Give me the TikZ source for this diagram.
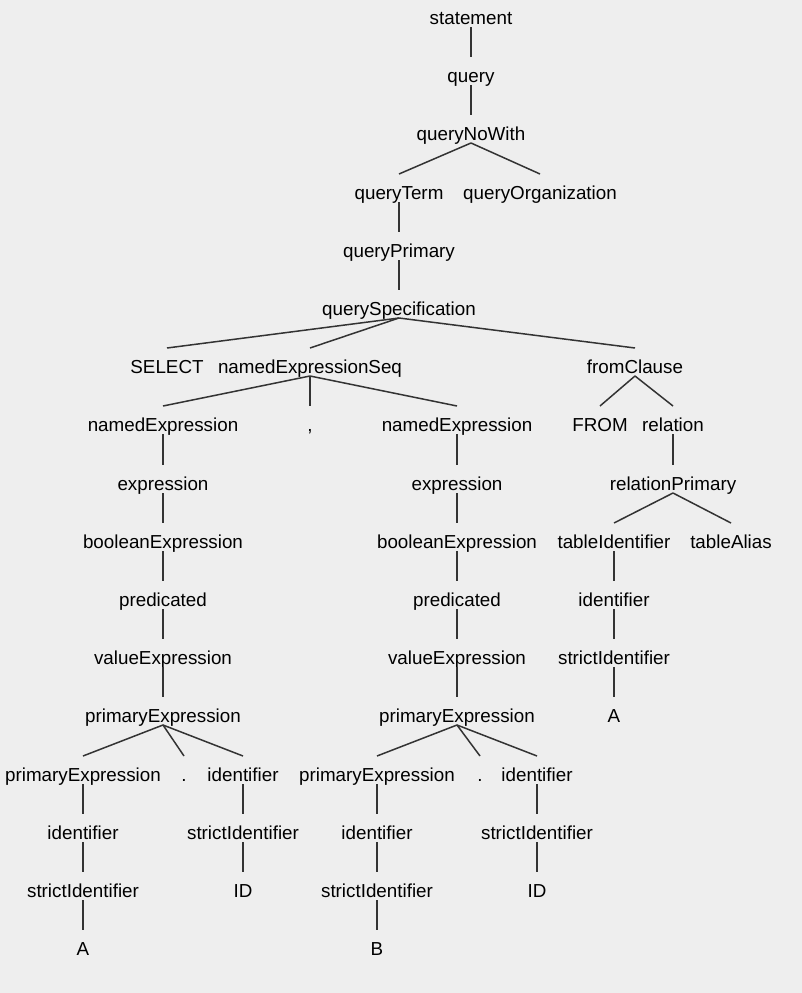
\documentclass[tikz,border=0pt]{standalone}
\usepackage{fontspec}
\setmainfont{Liberation Sans}
\usetikzlibrary{positioning}
\definecolor{bgGray}{HTML}{EEEEEE}
\definecolor{edgeGray}{HTML}{333333}
\begin{document}
\begin{tikzpicture}[x=1pt,y=-1pt]
		\tikzstyle{treenode} = [font=\fontsize{18.8}{20}\selectfont,anchor=base,text height=25pt,text depth=3pt,inner sep=0pt,outer sep=0pt]
		\tikzstyle{branch} = [draw=edgeGray,line width=1.5pt]
		
		% Background
		\fill [bgGray] (0,0) rectangle (802,993);
		\useasboundingbox (0,0) rectangle (802,993);
		
		% Nodes
		\node [treenode] (statement) at (471,24) {statement};
		\node [treenode] (query) at (471,82) {query};
		\node [treenode] (queryNoWith) at (471,140) {queryNoWith};
		\node [treenode] (queryTerm) at (399,199) {queryTerm};
		\node [treenode] (queryOrganization) at (540,199) {queryOrganization};
		\node [treenode] (queryPrimary) at (399,257) {queryPrimary};
		\node [treenode] (querySpecification) at (399,315) {querySpecification};
		\node [treenode] (select) at (167,373) {SELECT};
		\node [treenode] (namedExpressionSeq) at (310,373) {namedExpressionSeq};
		\node [treenode] (fromClause) at (635,373) {fromClause};
		
		% Left select item
		\node [treenode] (namedExprA) at (163,431) {namedExpression};
		\node [treenode] (comma) at (310,431) {,};
		\node [treenode] (expressionA) at (163,490) {expression};
		\node [treenode] (boolExprA) at (163,548) {booleanExpression};
		\node [treenode] (predicatedA) at (163,606) {predicated};
		\node [treenode] (valueExprA) at (163,664) {valueExpression};
		\node [treenode] (primaryExprA) at (163,722) {primaryExpression};
		\node [treenode] (primaryExprAA) at (83,781) {primaryExpression};
		\node [treenode] (dotA) at (184,781) {.};
		\node [treenode] (identifierA) at (243,781) {identifier};
		\node [treenode] (identifierAA) at (83,839) {identifier};
		\node [treenode] (strictIdentA) at (243,839) {strictIdentifier};
		\node [treenode] (strictIdentAA) at (83,897) {strictIdentifier};
		\node [treenode] (idA) at (243,897) {ID};
		\node [treenode] (nameA) at (83,955) {A};
		
		% Right select item
		\node [treenode] (namedExprB) at (457,431) {namedExpression};
		\node [treenode] (expressionB) at (457,490) {expression};
		\node [treenode] (boolExprB) at (457,548) {booleanExpression};
		\node [treenode] (predicatedB) at (457,606) {predicated};
		\node [treenode] (valueExprB) at (457,664) {valueExpression};
		\node [treenode] (primaryExprB) at (457,722) {primaryExpression};
		\node [treenode] (primaryExprBB) at (377,781) {primaryExpression};
		\node [treenode] (dotB) at (480,781) {.};
		\node [treenode] (identifierB) at (537,781) {identifier};
		\node [treenode] (identifierBB) at (377,839) {identifier};
		\node [treenode] (strictIdentB) at (537,839) {strictIdentifier};
		\node [treenode] (strictIdentBB) at (377,897) {strictIdentifier};
		\node [treenode] (idB) at (537,897) {ID};
		\node [treenode] (nameB) at (377,955) {B};
		
		% From clause
		\node [treenode] (from) at (600,431) {FROM};
		\node [treenode] (relation) at (673,431) {relation};
		\node [treenode] (relationPrimary) at (673,490) {relationPrimary};
		\node [treenode] (tableIdentifier) at (614,548) {tableIdentifier};
		\node [treenode] (tableAlias) at (731,548) {tableAlias};
		\node [treenode] (identifierT) at (614,606) {identifier};
		\node [treenode] (strictIdentT) at (614,664) {strictIdentifier};
		\node [treenode] (nameT) at (614,722) {A};
		
		% Branches
		\draw [branch] (statement.south) -- (query.north);
		\draw [branch] (query.south) -- (queryNoWith.north);
		\draw [branch] (queryNoWith.south) -- (queryTerm.north);
		\draw [branch] (queryNoWith.south) -- (queryOrganization.north);
		\draw [branch] (queryTerm.south) -- (queryPrimary.north);
		\draw [branch] (queryPrimary.south) -- (querySpecification.north);
		\draw [branch] (querySpecification.south) -- (select.north);
		\draw [branch] (querySpecification.south) -- (namedExpressionSeq.north);
		\draw [branch] (querySpecification.south) -- (fromClause.north);
		\draw [branch] (namedExpressionSeq.south) -- (namedExprA.north);
		\draw [branch] (namedExpressionSeq.south) -- (comma.north);
		\draw [branch] (namedExpressionSeq.south) -- (namedExprB.north);
		
		\draw [branch] (namedExprA.south) -- (expressionA.north);
		\draw [branch] (expressionA.south) -- (boolExprA.north);
		\draw [branch] (boolExprA.south) -- (predicatedA.north);
		\draw [branch] (predicatedA.south) -- (valueExprA.north);
		\draw [branch] (valueExprA.south) -- (primaryExprA.north);
		\draw [branch] (primaryExprA.south) -- (primaryExprAA.north);
		\draw [branch] (primaryExprA.south) -- (dotA.north);
		\draw [branch] (primaryExprA.south) -- (identifierA.north);
		\draw [branch] (primaryExprAA.south) -- (identifierAA.north);
		\draw [branch] (identifierAA.south) -- (strictIdentAA.north);
		\draw [branch] (strictIdentAA.south) -- (nameA.north);
		\draw [branch] (identifierA.south) -- (strictIdentA.north);
		\draw [branch] (strictIdentA.south) -- (idA.north);
		
		\draw [branch] (namedExprB.south) -- (expressionB.north);
		\draw [branch] (expressionB.south) -- (boolExprB.north);
		\draw [branch] (boolExprB.south) -- (predicatedB.north);
		\draw [branch] (predicatedB.south) -- (valueExprB.north);
		\draw [branch] (valueExprB.south) -- (primaryExprB.north);
		\draw [branch] (primaryExprB.south) -- (primaryExprBB.north);
		\draw [branch] (primaryExprB.south) -- (dotB.north);
		\draw [branch] (primaryExprB.south) -- (identifierB.north);
		\draw [branch] (primaryExprBB.south) -- (identifierBB.north);
		\draw [branch] (identifierBB.south) -- (strictIdentBB.north);
		\draw [branch] (strictIdentBB.south) -- (nameB.north);
		\draw [branch] (identifierB.south) -- (strictIdentB.north);
		\draw [branch] (strictIdentB.south) -- (idB.north);
		
		\draw [branch] (fromClause.south) -- (from.north);
		\draw [branch] (fromClause.south) -- (relation.north);
		\draw [branch] (relation.south) -- (relationPrimary.north);
		\draw [branch] (relationPrimary.south) -- (tableIdentifier.north);
		\draw [branch] (relationPrimary.south) -- (tableAlias.north);
		\draw [branch] (tableIdentifier.south) -- (identifierT.north);
		\draw [branch] (identifierT.south) -- (strictIdentT.north);
		\draw [branch] (strictIdentT.south) -- (nameT.north);
\end{tikzpicture}
\end{document}
